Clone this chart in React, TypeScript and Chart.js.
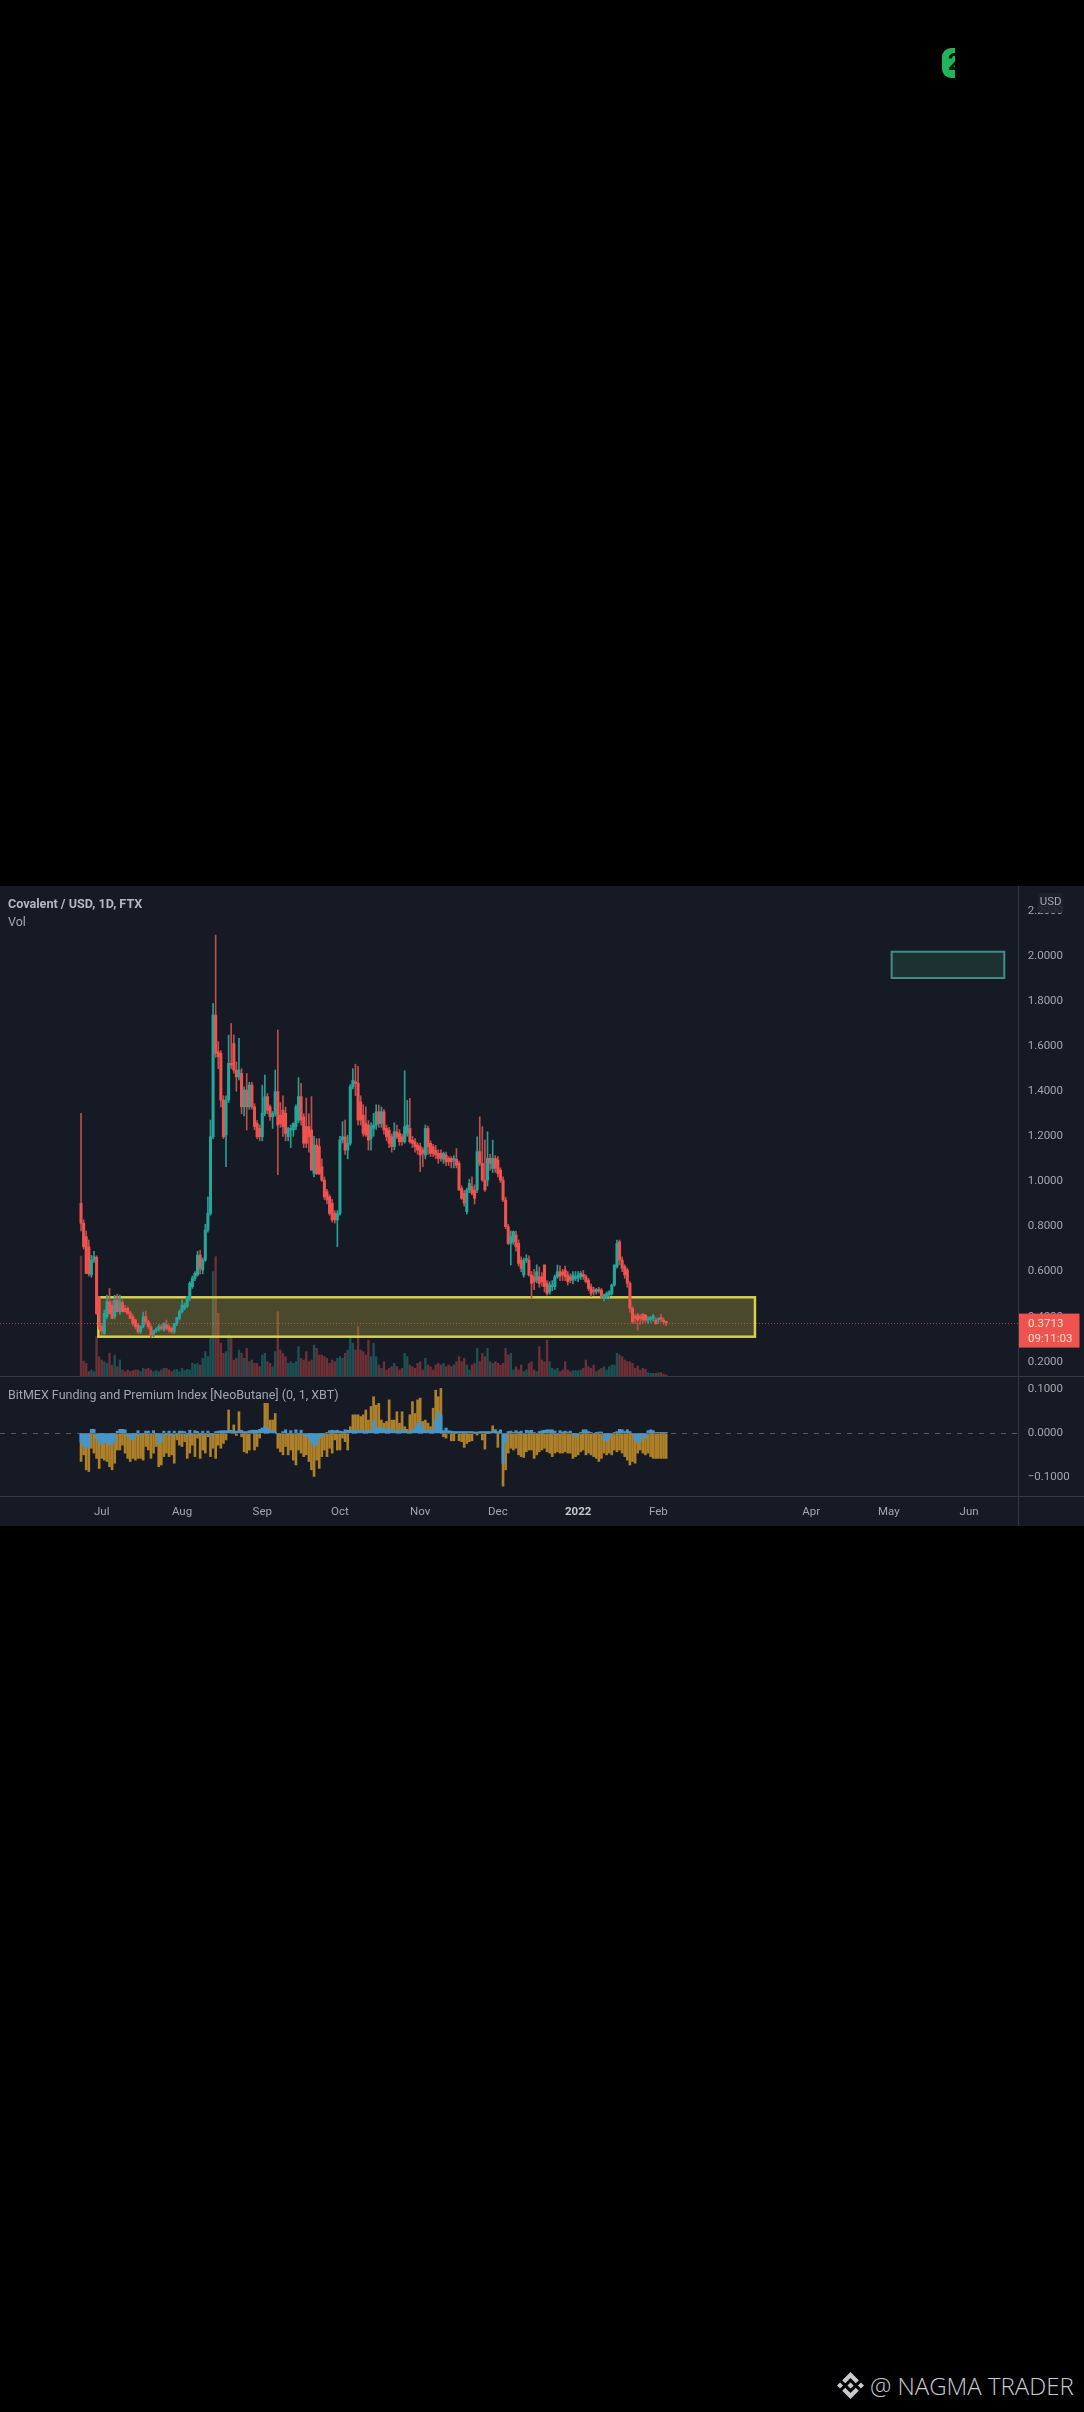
import React, { useEffect, useRef } from "react";
import { Chart, registerables } from "chart.js";

Chart.register(...registerables);

// Days counted from 1 Jul 2021
const firstCandleDay = -8;
const timeTickDays = [0, 31, 62, 92, 123, 153, 184, 215, 274, 304, 335];
const timeTickLabels = ["Jul", "Aug", "Sep", "Oct", "Nov", "Dec", "2022", "Feb", "Apr", "May", "Jun"];
const priceTicks = [0.2, 0.4, 0.6, 0.8, 1.0, 1.2, 1.4, 1.6, 1.8, 2.0, 2.2];
const fundingTicks = [-0.1, 0, 0.1];

const lastPrice = 0.3713;
const countdown = "09:11:03";
const yellowZone = { fromDay: -1.3, toDay: 252.3, top: 0.4858, bottom: 0.311 };
const greenZone = { fromDay: 305.1, toDay: 348.6, top: 2.019, bottom: 1.9024 };

const opens = [
  .903,.814,.755,.710,.585,.651,.663,.488,.356,.326,
  .400,.466,.451,.400,.474,.422,.462,.437,.437,.417,
  .400,.385,.363,.333,.355,.400,.377,.355,.322,.337,
  .343,.355,.343,.363,.355,.348,.333,.370,.392,.422,
  .437,.447,.481,.533,.570,.585,.673,.607,.651,.784,
  .858,1.198,1.738,1.575,1.568,1.361,1.206,1.361,1.524,1.612,
  1.494,1.464,1.479,1.331,1.405,1.331,1.427,1.331,1.257,1.235,
  1.198,1.302,1.376,1.331,1.287,1.302,1.398,1.294,1.316,1.302,
  1.198,1.228,1.228,1.243,1.272,1.376,1.287,1.243,1.243,1.228,
  1.035,1.161,1.154,1.065,1.006,.954,.932,.903,.858,.829,
  .858,1.184,1.198,1.139,1.169,1.42,1.44,1.435,1.353,1.294,
  1.257,1.250,1.191,1.235,1.250,1.309,1.257,1.309,1.235,1.228,
  1.198,1.154,1.220,1.213,1.198,1.176,1.213,1.235,1.183,1.176,
  1.161,1.154,1.139,1.117,1.235,1.169,1.154,1.139,1.124,1.124,
  1.098,1.117,1.102,1.102,1.095,1.098,1.080,.969,.947,.866,
  .962,.976,.962,.962,1.132,1.080,1.006,1.006,1.102,1.058,
  1.102,1.095,1.050,1.006,.917,.799,.725,.732,.762,.725,
  .651,.585,.651,.651,.585,.577,.562,.577,.577,.629,
  .548,.510,.533,.533,.577,.599,.599,.607,.585,.577,
  .562,.570,.570,.577,.588,.577,.562,.533,.518,.510,
  .518,.518,.481,.488,.496,.503,.540,.622,.732,.651,
  .622,.607,.548,.437,.402,.407,.400,.410,.407,.385,
  .388,.392,.385,.385,.397,.385,.377,
];
const highs = [
  1.302,.83,.78,.74,.672,.69,.67,.49,.37,.43,
  .496,.525,.47,.495,.50,.496,.475,.45,.445,.425,
  .41,.39,.37,.36,.42,.425,.385,.365,.34,.35,
  .365,.365,.375,.385,.365,.355,.37,.395,.43,.474,
  .46,.49,.555,.58,.60,.69,.695,.66,.81,.932,
  1.272,1.79,2.093,1.62,1.58,1.38,1.38,1.649,1.701,1.65,
  1.53,1.635,1.50,1.42,1.479,1.44,1.44,1.345,1.27,1.25,
  1.427,1.472,1.39,1.34,1.31,1.494,1.672,1.35,1.38,1.33,
  1.24,1.25,1.26,1.34,1.46,1.435,1.30,1.37,1.30,1.376,
  1.20,1.19,1.19,1.10,1.02,.965,.94,.92,.87,.87,
  1.20,1.265,1.272,1.205,1.43,1.50,1.52,1.51,1.38,1.34,
  1.331,1.27,1.26,1.302,1.34,1.339,1.33,1.32,1.25,1.24,
  1.21,1.26,1.25,1.23,1.21,1.491,1.36,1.368,1.20,1.19,
  1.17,1.17,1.15,1.25,1.245,1.18,1.165,1.16,1.14,1.14,
  1.13,1.13,1.11,1.11,1.115,1.146,1.09,.98,.96,.97,
  1.01,1.02,.985,1.198,1.287,1.243,1.183,1.220,1.12,1.183,
  1.115,1.11,1.06,1.02,.93,.81,.78,.78,.78,.74,
  .665,.66,.675,.67,.60,.61,.63,.62,.595,.63,
  .56,.555,.56,.585,.629,.625,.61,.625,.60,.59,
  .60,.60,.60,.60,.605,.585,.57,.545,.53,.525,
  .53,.525,.50,.51,.515,.545,.63,.74,.74,.665,
  .63,.615,.555,.445,.41,.415,.41,.415,.41,.40,
  .40,.41,.395,.395,.41,.395,.38,
];
const lows = [
  .78,.70,.59,.58,.575,.64,.41,.345,.32,.32,
  .39,.41,.39,.39,.42,.41,.42,.42,.41,.39,
  .36,.345,.325,.325,.35,.365,.345,.305,.31,.33,
  .335,.34,.335,.34,.33,.325,.325,.36,.385,.415,
  .43,.44,.47,.525,.56,.58,.59,.59,.645,.775,
  .85,1.19,1.55,1.50,1.33,1.19,1.065,1.35,1.50,1.48,
  1.40,1.45,1.30,1.29,1.228,1.32,1.32,1.23,1.19,1.18,
  1.18,1.29,1.30,1.27,1.235,1.29,1.03,1.24,1.20,1.18,
  1.18,1.15,1.20,1.23,1.26,1.25,1.15,1.15,1.13,1.05,
  1.02,1.03,1.03,1.00,.92,.90,.85,.82,.815,.71,
  .85,1.17,1.12,1.10,1.16,1.41,1.38,1.25,1.25,1.20,
  1.20,1.139,1.139,1.20,1.23,1.24,1.24,1.21,1.18,1.15,
  1.13,1.14,1.19,1.16,1.16,1.17,1.20,1.17,1.15,1.13,
  1.12,1.043,1.065,1.10,1.12,1.11,1.11,1.10,1.08,1.09,
  1.08,1.07,1.07,1.06,1.06,1.06,.96,.92,.89,.855,
  .95,.94,.90,.95,1.07,1.00,.955,.98,1.05,1.04,
  1.04,1.02,.995,.91,.79,.72,.629,.72,.69,.625,
  .60,.575,.64,.58,.481,.52,.55,.53,.535,.51,
  .495,.50,.515,.52,.57,.56,.56,.56,.54,.55,
  .545,.56,.555,.565,.565,.55,.515,.49,.495,.50,
  .505,.48,.47,.48,.485,.495,.535,.615,.63,.60,
  .57,.53,.42,.37,.37,.34,.365,.37,.375,.37,
  .375,.38,.365,.37,.375,.365,.36,
];
const closes = [
  .814,.710,.592,.590,.651,.666,.414,.355,.335,.414,
  .466,.414,.392,.474,.422,.466,.422,.422,.414,.392,
  .370,.355,.333,.355,.400,.377,.355,.318,.337,.343,
  .355,.348,.367,.348,.340,.333,.370,.397,.422,.451,
  .451,.488,.548,.570,.592,.673,.614,.651,.784,.858,
  1.198,1.738,1.568,1.553,1.361,1.198,1.361,1.524,1.516,1.494,
  1.464,1.494,1.331,1.405,1.331,1.427,1.331,1.243,1.198,1.198,
  1.302,1.376,1.316,1.287,1.302,1.398,1.250,1.257,1.243,1.213,
  1.235,1.235,1.257,1.331,1.376,1.272,1.169,1.169,1.198,1.050,
  1.161,1.035,1.035,1.006,.932,.917,.858,.829,.829,.858,
  1.184,1.198,1.139,1.169,1.42,1.449,1.435,1.272,1.272,1.213,
  1.206,1.183,1.243,1.250,1.309,1.257,1.309,1.228,1.198,1.169,
  1.154,1.220,1.198,1.176,1.176,1.243,1.250,1.176,1.169,1.154,
  1.139,1.117,1.124,1.235,1.154,1.124,1.124,1.117,1.102,1.102,
  1.124,1.087,1.087,1.087,1.102,1.072,.962,.925,.903,.962,
  .991,.947,.925,1.132,1.080,1.006,.962,1.102,1.080,1.102,
  1.058,1.035,1.006,.917,.799,.725,.755,.777,.710,.636,
  .614,.651,.654,.585,.548,.555,.599,.548,.555,.533,
  .503,.540,.536,.577,.599,.580,.585,.577,.555,.562,
  .585,.577,.585,.592,.577,.555,.525,.503,.510,.521,
  .514,.488,.496,.503,.510,.540,.629,.725,.651,.614,
  .585,.548,.437,.377,.392,.385,.392,.385,.385,.392,
  .397,.403,.370,.392,.388,.377,.3713,
];
const volumes = [
  360,45,38,13,18,13,118,58,48,43,
  38,68,33,63,28,48,18,13,18,13,
  16,18,18,13,23,20,23,18,13,16,
  13,18,23,23,18,13,18,20,13,23,
  16,20,18,38,35,38,33,53,73,58,
  118,313,358,188,98,68,73,123,118,48,
  53,78,68,53,83,43,48,38,38,28,
  63,68,43,38,28,73,193,78,68,58,
  38,43,38,43,88,53,48,73,43,48,
  93,83,63,63,58,53,38,48,43,53,
  58,53,68,78,113,98,78,148,78,73,
  63,108,58,98,58,33,23,43,18,23,
  28,38,28,18,23,68,58,33,28,23,
  38,43,18,53,33,28,18,33,38,33,
  38,28,33,28,33,43,58,43,53,33,
  18,33,38,83,43,68,58,83,43,38,
  43,38,33,38,83,63,68,18,28,18,
  33,13,18,38,43,18,13,88,48,43,
  108,43,23,18,23,13,18,43,18,13,
  16,16,16,18,23,48,28,23,33,13,
  18,23,28,18,28,33,33,68,63,58,
  48,43,43,38,23,30,18,23,20,10,
  8,8,8,10,10,6,3,
];
const fundingRate = [
  -.064,-.049,-.083,-.087,-.034,-.045,-.057,-.080,-.057,-.061,
  -.064,-.076,-.083,-.068,-.038,-.038,-.027,-.045,-.057,-.064,
  -.057,-.061,-.057,-.057,-.061,-.030,-.038,-.057,-.045,-.030,
  -.076,-.072,-.053,-.045,-.053,-.049,-.068,-.015,-.027,-.030,
  -.019,-.057,-.045,-.027,-.053,-.011,-.057,-.038,-.045,-.008,
  -.053,-.034,-.057,-.027,-.034,-.023,-.015,.053,.004,.019,
  -.005,.049,-.008,-.042,-.045,-.038,0,-.038,-.030,-.011,
  .002,.068,.068,.030,.030,.045,-.034,-.042,-.049,-.030,
  -.049,-.038,-.061,-.072,-.038,-.045,-.053,-.049,-.064,-.083,
  -.098,-.061,-.080,-.053,-.038,-.053,-.034,-.045,-.015,-.038,
  -.038,-.011,-.019,-.038,.015,.042,.042,.042,.038,.042,
  .053,.030,.061,.083,.064,.068,.030,.023,.027,.076,
  .030,.030,.049,.023,.049,.015,.009,.042,.072,.045,
  .076,.080,.027,.030,.023,.015,.057,.098,.083,.102,
  -.008,-.011,0,-.017,-.017,0,-.017,-.019,-.032,-.023,
  -.019,-.017,0,-.004,0,-.015,-.036,0,0,.017,
  .008,-.032,0,-.120,-.083,-.045,-.034,-.038,-.034,-.049,
  -.053,-.055,-.042,-.038,-.038,-.057,-.049,-.042,-.038,-.034,
  -.042,-.045,-.053,-.045,-.042,-.045,-.045,-.042,-.045,-.045,
  -.057,-.053,-.049,-.042,-.038,-.049,-.045,-.049,-.053,-.057,
  -.064,-.057,-.045,-.049,-.045,-.049,-.038,-.042,-.038,-.045,
  -.053,-.061,-.072,-.064,-.068,-.045,-.038,-.045,-.049,-.045,
  -.053,-.057,-.057,-.057,-.057,-.057,-.057,
];
const premiumIndex = [
  -.02,-.03,-.034,-.03,.009,.009,-.012,-.022,-.026,-.022,
  -.02,-.026,-.024,-.02,.005,.009,.009,.008,-.006,-.012,
  -.015,-.006,.006,-.004,-.004,.005,.005,-.004,.006,-.003,
  -.025,-.018,.005,-.004,.005,-.006,.005,-.004,.005,.005,
  .004,-.006,.007,-.003,.006,.004,-.004,.005,-.003,.005,
  -.004,-.003,.004,.005,.006,.006,.006,.006,.007,.005,
  .005,.006,.007,.004,.004,.006,.007,.007,.007,.009,
  .012,.015,.012,.006,.007,.003,-.002,-.002,.004,.008,
  -.003,.006,-.002,.008,-.002,.007,-.004,-.006,-.012,-.02,
  -.03,-.026,-.012,-.006,-.003,.002,.006,.007,.006,.007,
  .005,.004,.008,.007,.007,.007,.007,.007,.006,.006,
  .006,.006,.006,.03,.012,.014,.012,.01,.008,.012,
  .008,.006,.006,.006,.008,.006,.004,.002,.008,.012,
  .022,.025,.012,.006,.008,.006,.008,.03,.05,.04,
  .006,.012,.006,.005,.004,.004,.004,.004,.004,.004,
  .004,.004,.003,.003,.004,.004,.004,.004,.004,.005,
  .008,.004,.008,-.068,-.02,.004,.005,.002,.006,.003,
  .005,-.002,.007,.006,.007,.002,-.002,.004,.006,.007,
  .008,.008,.008,.005,-.003,.006,.003,.005,.003,.005,
  -.003,-.008,-.002,.002,.008,.008,.004,.002,-.002,.002,
  .003,.003,-.015,-.018,-.012,-.002,.002,.004,.009,.008,
  .004,.008,.004,-.003,-.015,-.022,-.018,-.006,-.012,.006,
  .008,.006,.002,.002,.002,.002,.002,
];

const days = opens.map((_, i) => firstCandleDay + i);

const UP = "#26a69a";
const DOWN = "#ef5350";
const UP_WICK = "#2a9d93";
const DOWN_WICK = "#bd4f4d";
const UP_VOL = "rgba(38,166,154,0.4)";
const DOWN_VOL = "rgba(239,83,80,0.4)";
const PANEL = "#161a25";
const TEXT = "#a3a6af";
const FONT = "Roboto, sans-serif";
const isUp = (i: number) => closes[i] >= opens[i];
const X_MIN = -39.3;
const X_MAX = 353.9;

const pricePanePlugin = {
  id: "pricePane",
  afterDatasetDraw(chart: any, args: any) {
    if (args.index !== 0) return;
    const { ctx, scales } = chart;
    const x = scales.x, y = scales.y;
    const zone = (z: any, fill: string, stroke: string, w: number) => {
      const l = x.getPixelForValue(z.fromDay), r = x.getPixelForValue(z.toDay);
      const t = y.getPixelForValue(z.top), b = y.getPixelForValue(z.bottom);
      ctx.save();
      ctx.fillStyle = fill;
      ctx.fillRect(l, t, r - l, b - t);
      ctx.strokeStyle = stroke;
      ctx.lineWidth = w;
      ctx.strokeRect(l, t, r - l, b - t);
      ctx.restore();
    };
    zone(yellowZone, "rgba(228,208,70,0.26)", "#d6cf4a", 2.5);
    zone(greenZone, "rgba(50,110,90,0.28)", "#3f8f86", 2);
  },
  afterDraw(chart: any) {
    const { ctx, scales, chartArea } = chart;
    const y = scales.y;
    const py = y.getPixelForValue(lastPrice);
    ctx.save();
    // last-price dotted line
    ctx.strokeStyle = "rgba(239,110,90,0.6)";
    ctx.lineWidth = 1;
    ctx.setLineDash([1, 2]);
    ctx.beginPath();
    ctx.moveTo(chartArea.left, py + 0.5);
    ctx.lineTo(chartArea.right, py + 0.5);
    ctx.stroke();
    ctx.setLineDash([]);
    // last-price tag
    ctx.fillStyle = DOWN;
    ctx.fillRect(chartArea.right, py - 9.5, 61.5, 34);
    ctx.fillStyle = "#fbe3c8";
    ctx.font = `11.5px ${FONT}`;
    ctx.textBaseline = "middle";
    ctx.textAlign = "left";
    ctx.fillText(lastPrice.toFixed(4), chartArea.right + 10, py + 0.7);
    ctx.fillText(countdown, chartArea.right + 10, py + 15.7);
    // currency badge
    ctx.fillStyle = "rgba(30,34,45,0.9)";
    ctx.beginPath();
    ctx.roundRect(chartArea.right + 20, 7, 25.5, 20, 3);
    ctx.fill();
    ctx.fillStyle = TEXT;
    ctx.textAlign = "center";
    ctx.fillText("USD", chartArea.right + 32.7, 16.5);
    ctx.restore();
  },
};

const sharedX = {
  type: "linear" as const,
  min: X_MIN,
  max: X_MAX,
  offset: false,
  grid: { display: false, offset: false, drawTicks: false },
};

const rightAxis = (ticksList: number[]) => ({
  position: "right" as const,
  grid: { display: false, drawTicks: false },
  border: { display: false },
  afterFit: (s: any) => {
    s.width = 66;
    s.paddingTop = 0;
    s.paddingBottom = 0;
  },
  afterBuildTicks: (s: any) => { s.ticks = ticksList.map((value) => ({ value })); },
  ticks: {
    autoSkip: false,
    padding: 9.7,
    color: TEXT,
    font: { family: FONT, size: 11.5 },
    callback: (v: any) => Number(v).toFixed(4).replace("-", "\u2212"),
  },
});

function PriceChart() {
  const ref = useRef<HTMLCanvasElement>(null);
  useEffect(() => {
    const chart = new Chart(ref.current as HTMLCanvasElement, {
      type: "bar",
      data: {
        datasets: [
          {
            data: days.map((d, i) => ({ x: d, y: volumes[i] })),
            yAxisID: "yVol",
            backgroundColor: days.map((_, i) => (isUp(i) ? UP_VOL : DOWN_VOL)),
            barThickness: 1.7,
            grouped: false,
            order: 3,
          },
          {
            data: days.map((d, i) => ({ x: d, y: [lows[i], highs[i]] })),
            yAxisID: "y",
            backgroundColor: days.map((_, i) => (isUp(i) ? UP_WICK : DOWN_WICK)),
            barThickness: 1,
            grouped: false,
            order: 2,
          },
          {
            data: days.map((d, i) => ({ x: d, y: [opens[i], closes[i]] })),
            yAxisID: "y",
            backgroundColor: days.map((_, i) => (isUp(i) ? UP : DOWN)),
            barThickness: 2.4,
            minBarLength: 1.5,
            grouped: false,
            order: 1,
          },
        ],
      } as any,
      options: {
        animation: false,
        responsive: false,
        events: [],
        layout: { padding: 0 },
        plugins: { legend: { display: false }, tooltip: { enabled: false } },
        scales: {
          x: { ...sharedX, display: false },
          y: { ...rightAxis(priceTicks), min: 0.1366, max: 2.3106 },
          yVol: { display: false, min: 0, max: 1470 },
        },
      } as any,
      plugins: [pricePanePlugin],
    });
    return () => chart.destroy();
  }, []);
  return <canvas ref={ref} width={1084} height={490} style={{ position: "absolute", left: 0, top: 0, width: 1084, height: 490 }} />;
}

function FundingChart() {
  const ref = useRef<HTMLCanvasElement>(null);
  useEffect(() => {
    const chart = new Chart(ref.current as HTMLCanvasElement, {
      type: "bar",
      data: {
        datasets: [
          {
            data: days.map((d, i) => ({ x: d, y: fundingRate[i] })),
            backgroundColor: "#ad8029",
            barThickness: 2,
            grouped: false,
            order: 2,
          },
          {
            data: days.map((d, i) => ({ x: d, y: premiumIndex[i] })),
            backgroundColor: "#4596cc",
            barThickness: 2.4,
            grouped: false,
            order: 1,
          },
        ],
      } as any,
      options: {
        animation: false,
        responsive: false,
        events: [],
        layout: { padding: 0 },
        plugins: { legend: { display: false }, tooltip: { enabled: false } },
        scales: {
          x: {
            ...sharedX,
            border: { display: false },
            afterFit: (s: any) => { s.height = 30; s.paddingLeft = 0; s.paddingRight = 0; },
            afterBuildTicks: (s: any) => { s.ticks = timeTickDays.map((value) => ({ value })); },
            ticks: {
              autoSkip: false,
              maxRotation: 0,
              padding: 9,
              color: (c: any) => (c.tick && c.tick.value === 184 ? "#c4c6cd" : TEXT),
              font: (c: any) => ({ family: FONT, size: 11.5, weight: c.tick && c.tick.value === 184 ? "bold" : "normal" }),
              callback: (v: any) => timeTickLabels[timeTickDays.indexOf(Number(v))],
            },
          },
          y: {
            ...rightAxis(fundingTicks),
            min: -0.1425,
            max: 0.1302,
            grid: {
              display: true,
              drawTicks: false,
              lineWidth: 1,
              color: (c: any) => (c.tick && c.tick.value === 0 ? "#565a66" : "rgba(0,0,0,0)"),
            },
            border: { display: false, dash: [5, 6] },
          },
        },
      } as any,
    });
    return () => chart.destroy();
  }, []);
  return <canvas ref={ref} width={1084} height={150} style={{ position: "absolute", left: 0, top: 490, width: 1084, height: 150 }} />;
}

const label = (top: number, text: string, extra: React.CSSProperties = {}) => (
  <div
    style={{
      position: "absolute",
      left: 8,
      top,
      lineHeight: "16px",
      fontFamily: FONT,
      fontSize: 12.5,
      color: TEXT,
      whiteSpace: "nowrap",
      ...extra,
    }}
  >
    {text}
  </div>
);

const line = (style: React.CSSProperties) => <div style={{ position: "absolute", background: "#343844", ...style }} />;

export default function App() {
  return (
    <div style={{ position: "absolute", left: 0, top: 0, width: 1084, height: 2412, background: "#000", overflow: "hidden" }}>
      <style>{`html,body{margin:0;background:#000}`}</style>

      <div style={{ position: "absolute", left: 942, top: 48, width: 12.5, height: 30, overflow: "hidden" }}>
        <div
          style={{
            width: 30,
            height: 30,
            borderRadius: 9,
            background: "#22b45c",
            color: "#04180c",
            fontFamily: FONT,
            fontWeight: 700,
            fontSize: 23,
            lineHeight: "30px",
            paddingLeft: 6,
            boxSizing: "border-box",
          }}
        >
          2
        </div>
      </div>

      <div style={{ position: "absolute", left: 0, top: 886, width: 1084, height: 640, background: PANEL, filter: "blur(0.45px)" }}>
        <PriceChart />
        <FundingChart />
        {label(10, "Covalent / USD, 1D, FTX", { fontWeight: 700, fontSize: 12.6, color: "#b4b7bf" })}
        {label(28, "Vol")}
        {label(501, "BitMEX Funding and Premium Index [NeoButane] (0, 1, XBT)")}
        {line({ left: 1018, top: 0, width: 1, height: 640 })}
        {line({ left: 0, top: 490, width: 1084, height: 1 })}
        {line({ left: 0, top: 610, width: 1084, height: 1 })}
      </div>

      <svg style={{ position: "absolute", left: 837, top: 2372 }} width={27} height={27} viewBox="0 0 126.61 126.61" fill="#c9cbd0">
        <path d="M38.73 53.2l24.59-24.58 24.6 24.6 14.3-14.31L63.32 0 24.43 38.9z" />
        <path d="M0 63.31l14.3-14.31 14.31 14.31-14.31 14.3z" />
        <path d="M38.73 73.41l24.59 24.59 24.6-24.6 14.31 14.29h-.01L63.32 126.61 24.41 87.7l-.02-.02z" />
        <path d="M98 63.31l14.3-14.31 14.31 14.3-14.31 14.31z" />
        <path d="M77.83 63.3L63.32 48.78 52.59 59.51l-1.24 1.23-2.54 2.54 14.51 14.53 14.51-14.5z" />
      </svg>
      <div
        style={{
          position: "absolute",
          left: 870,
          top: 2370,
          lineHeight: "32px",
          fontFamily: '"Open Sans", sans-serif',
          fontWeight: 300,
          fontSize: 24,
          color: "#c9cbd0",
          whiteSpace: "nowrap",
        }}
      >
        @ NAGMA TRADER
      </div>
    </div>
  );
}
